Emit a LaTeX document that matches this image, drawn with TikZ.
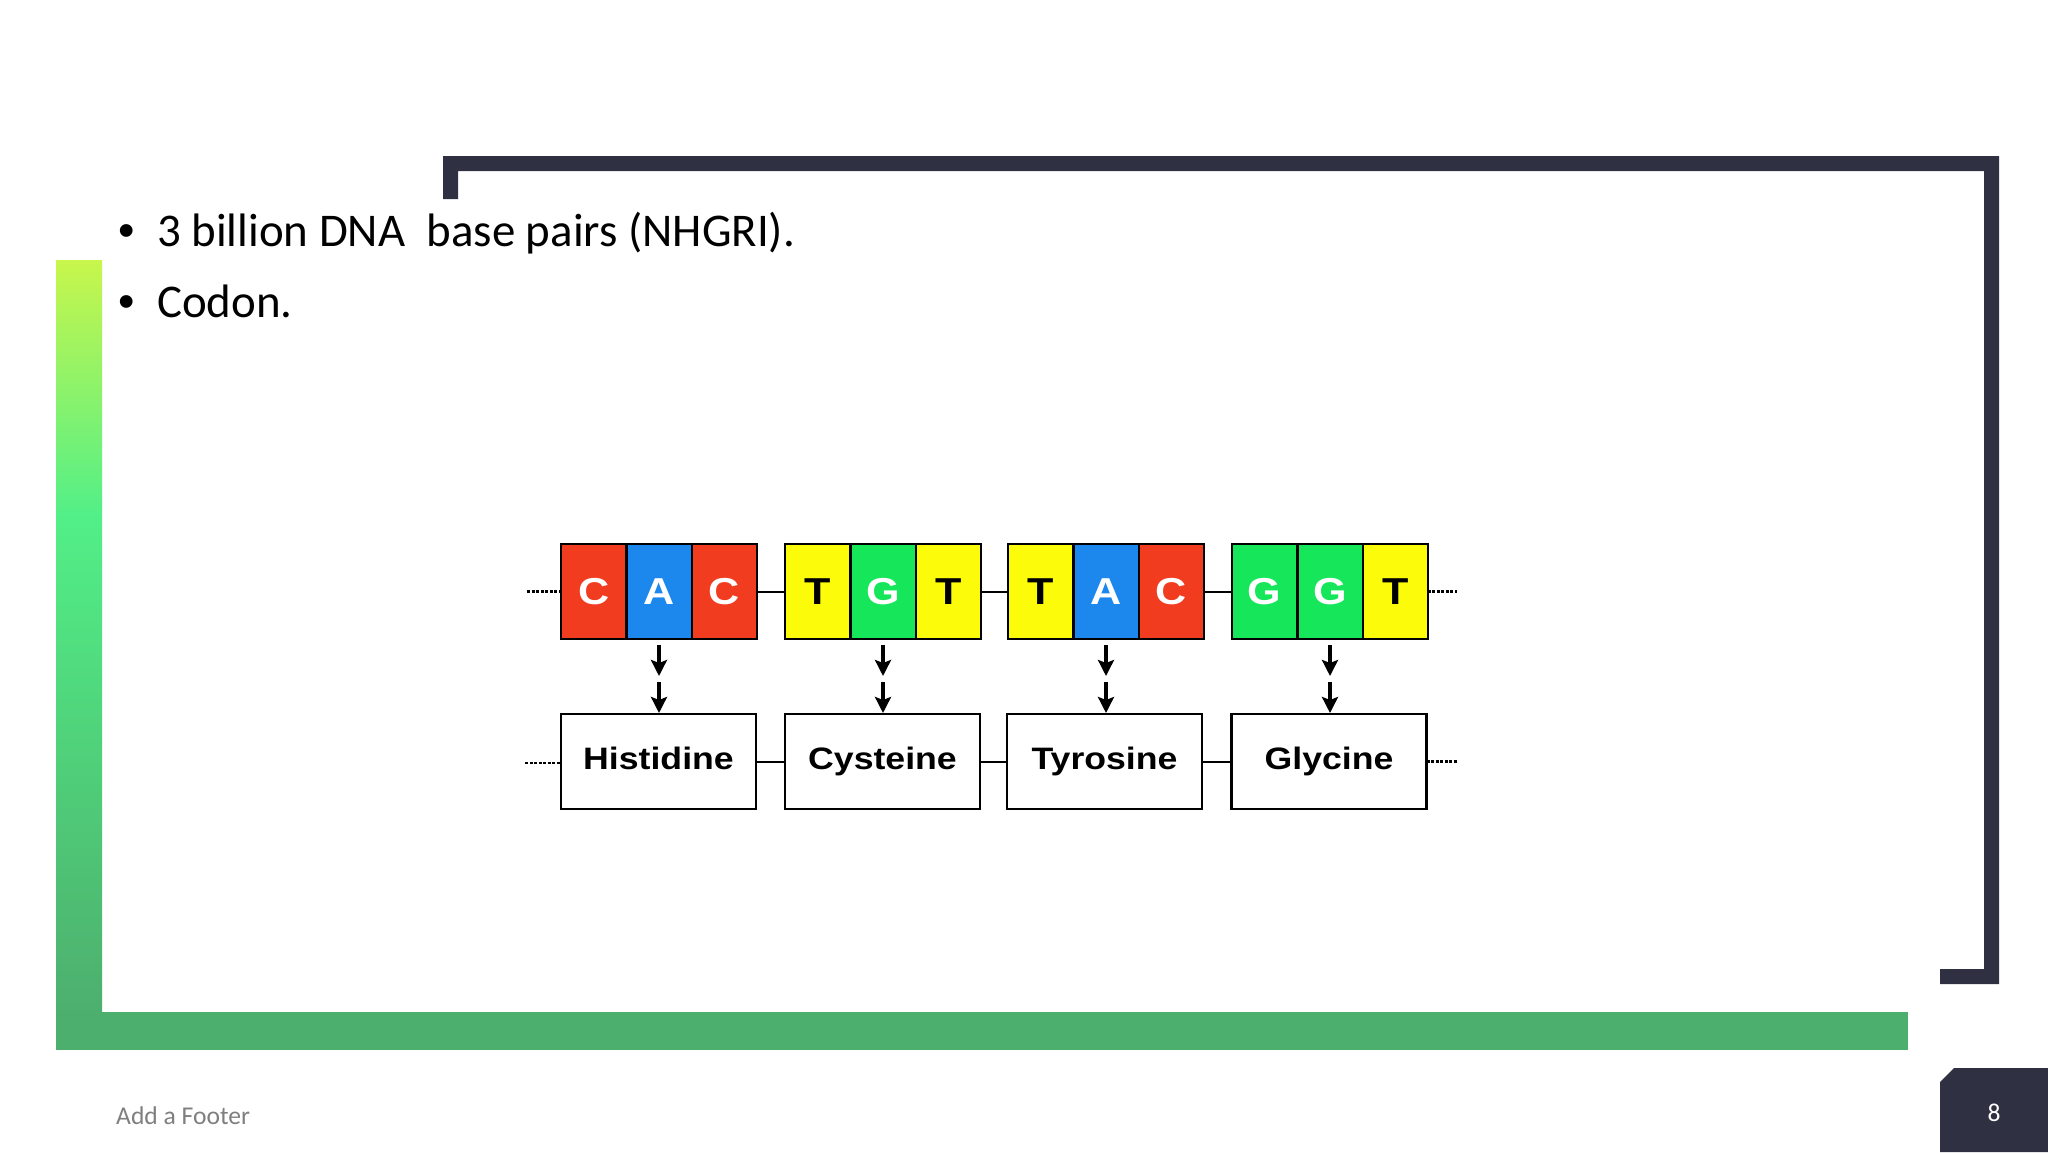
\documentclass[tikz,border=0pt]{standalone}
\usepackage{graphicx}
\usepackage{fontspec}
\setmainfont{Carlito}
\newfontfamily\arialfont{Liberation Sans}
\usetikzlibrary{arrows.meta}
\definecolor{navy}{HTML}{2F3142}
\definecolor{gtop}{HTML}{C8F64C}
\definecolor{gmid}{HTML}{52EF88}
\definecolor{gmid2}{HTML}{50D47B}
\definecolor{gbot}{HTML}{4DAF6E}
\definecolor{cred}{HTML}{F23C1F}
\definecolor{cblue}{HTML}{1C88EE}
\definecolor{cyel}{HTML}{FCFC0A}
\definecolor{cgreen}{HTML}{16E65A}
\definecolor{footgray}{HTML}{7F7F7F}
\pgfdeclareverticalshading{greenbar}{100bp}{color(0bp)=(gbot); color(25bp)=(gbot); color(44bp)=(gmid2); color(58bp)=(gmid); color(75bp)=(gtop); color(100bp)=(gtop)}
\newcommand{\wideA}[1]{\scalebox{1.15}[1]{#1}}
\tikzset{
  cell/.style={draw=black, line width=2.3pt, minimum width=65.3pt, minimum height=95pt, inner sep=0pt, outer sep=0pt, font=\arialfont\bfseries\fontsize{37.5}{40}\selectfont},
  aabox/.style={draw=black, line width=2.3pt, minimum width=195pt, minimum height=95pt, inner sep=0pt, outer sep=0pt, fill=white, text height=22.5pt, text depth=6.5pt, font=\arialfont\bfseries\fontsize{31}{34}\selectfont},
  link/.style={draw=black, line width=2pt},
  dots/.style={draw=black, line width=2.2pt, dash pattern=on 3pt off 1.5pt},
  arr/.style={draw=black, line width=3.4pt, -{Stealth[length=16pt,width=16pt,inset=3pt]}},
  bullet/.style={anchor=base west, inner sep=0pt, font=\fontsize{46.9}{56}\selectfont},
}
\begin{document}
\begin{tikzpicture}[x=1pt,y=-1pt]
\useasboundingbox (0,0) rectangle (2048,1152);
\fill[white] (0,0) rectangle (2048,1152);
% dark bracket
\fill[navy] (443,156) -- (1999,156) -- (1999,984) -- (1940,984) -- (1940,969) -- (1984,969) -- (1984,171) -- (458,171) -- (458,199) -- (443,199) -- cycle;
% green L
\shade[shading=greenbar] (56,260) rectangle (102,1013);
\fill[gbot] (56,1012) rectangle (1908,1050);
% page number box
\fill[navy] (1940,1082) -- (1954,1068) -- (2048,1068) -- (2048,1152) -- (1940,1152) -- cycle;
\node[anchor=base, inner sep=0pt, text=white, font=\fontsize{25.6}{30}\selectfont] (pnum) at (1994,1121) {8};
% footer
\node[anchor=base west, inner sep=0pt, text=footgray, font=\fontsize{25.6}{30}\selectfont] (footer) at (116,1124) {Add a Footer};
% bullets
\node[bullet, font=\arialfont\fontsize{46.9}{56}\selectfont] (b1) at (118,246) {•};
\node[bullet] (t1) at (157,246) {3 billion DNA\ \ base pairs (NHGRI).};
\node[bullet, font=\arialfont\fontsize{46.9}{56}\selectfont] (b2) at (118,317) {•};
\node[bullet] (t2) at (157,317) {Codon.};
% codon cells
\node[cell, fill=cred, text=white]   (c11) at (593.7,591.5) {\wideA{C}};
\node[cell, fill=cblue, text=white]  (c12) at (659.0,591.5) {\wideA{A}};
\node[cell, fill=cred, text=white]   (c13) at (724.3,591.5) {\wideA{C}};
\node[cell, fill=cyel, text=black]   (c21) at (817.7,591.5) {\wideA{T}};
\node[cell, fill=cgreen, text=white] (c22) at (883.0,591.5) {\wideA{G}};
\node[cell, fill=cyel, text=black]   (c23) at (948.3,591.5) {\wideA{T}};
\node[cell, fill=cyel, text=black]   (c31) at (1040.7,591.5) {\wideA{T}};
\node[cell, fill=cblue, text=white]  (c32) at (1106.0,591.5) {\wideA{A}};
\node[cell, fill=cred, text=white]   (c33) at (1171.3,591.5) {\wideA{C}};
\node[cell, fill=cgreen, text=white] (c41) at (1264.7,591.5) {\wideA{G}};
\node[cell, fill=cgreen, text=white] (c42) at (1330.0,591.5) {\wideA{G}};
\node[cell, fill=cyel, text=black]   (c43) at (1395.3,591.5) {\wideA{T}};
% amino acid boxes
\node[aabox] (a1) at (658.5,761.5) {\wideA{Histidine}};
\node[aabox] (a2) at (882.5,761.5) {\wideA{Cysteine}};
\node[aabox] (a3) at (1104.5,761.5) {\wideA{Tyrosine}};
\node[aabox] (a4) at (1329.0,761.5) {\wideA{Glycine}};
% links between codons
\draw[link] (c13.east) -- (c21.west);
\draw[link] (c23.east) -- (c31.west);
\draw[link] (c33.east) -- (c41.west);
\draw[link] (a1.east) -- (a2.west);
\draw[link] (a2.east) -- (a3.west);
\draw[link] (a3.east) -- (a4.west);
% dotted ends
\coordinate (dl1) at (527,591.5);
\coordinate (dr1) at (1457,591.5);
\coordinate (dl2) at (525,763);
\coordinate (dr2) at (1457,761.5);
\draw[dots] (dl1) -- (c11.west);
\draw[dots] (c43.east) -- (dr1);
\draw[dots] (dl2) -- (a1.west |- dl2);
\draw[dots] (a4.east) -- (dr2);
% arrows
\foreach \c/\a in {c12/a1, c22/a2, c32/a3, c42/a4}{
  \draw[arr] ([yshift=-6pt]\c.south) -- ([yshift=-37pt]\c.south);
  \draw[arr] ([yshift=32pt]\a.north -| \c.south) -- ([yshift=1pt]\a.north -| \c.south);
}
\end{tikzpicture}
\end{document}
